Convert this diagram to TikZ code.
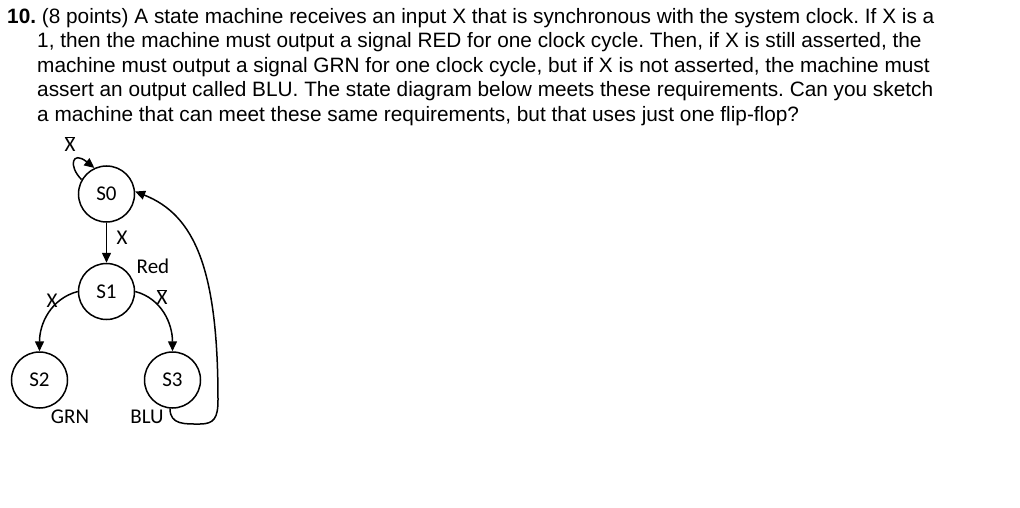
\documentclass[tikz,border=0pt]{standalone}
\usepackage{fontspec}
\setmainfont{Liberation Sans}
\newfontfamily\diagfont{Carlito}
\usetikzlibrary{arrows.meta}
\frenchspacing
\begin{document}
\begin{tikzpicture}[x=1pt,y=-1pt,
  txt/.style={anchor=base west,inner sep=0pt,font=\fontsize{20.8}{25}\selectfont},
  state/.style={draw,circle,line width=1.5pt,minimum size=56pt,inner sep=0pt,font=\diagfont\fontsize{21}{25}\selectfont},
  lbl/.style={inner sep=0pt,font=\diagfont\fontsize{21}{25}\selectfont},
  conn/.style={line width=1.5pt,-{Triangle[length=10pt,width=9pt]}}]
\fill[white] (0,0) rectangle (1020,508);
\useasboundingbox (0,0) rectangle (1020,508);
% question text
\node[txt] (l1) at (7,23.5) {\textbf{10.} (8 points) A state machine receives an input X that is synchronous with the system clock. If X is a};
\node[txt] (l2) at (37,48) {1, then the machine must output a signal RED for one clock cycle. Then, if X is still asserted, the};
\node[txt] (l3) at (37,72.5) {machine must output a signal GRN for one clock cycle, but if X is not asserted, the machine must};
\node[txt] (l4) at (37,97) {assert an output called BLU. The state diagram below meets these requirements. Can you sketch};
\node[txt] (l5) at (37,121.5) {a machine that can meet these same requirements, but that uses just one flip-flop?};
% states
\node[state] (s0) at (106.5,194) {S0};
\node[state] (s1) at (106.5,291.5) {S1};
\node[state] (s2) at (39.5,380) {S2};
\node[state] (s3) at (172.5,380) {S3};
% connectors
\draw[conn] (s0.150) .. controls (68,166) and (72,150) .. (s0.115);
\draw[conn] (s0.south) -- (s1.north);
\draw[conn] (s1.west) to[out=195,in=90] (s2.north);
\draw[conn] (s1.east) to[out=-15,in=90] (s3.north);
\coordinate (b1) at (200,424);
\coordinate (b2) at (218,400);
\draw[conn] (s3.265) .. controls (170,425) and (185,424) .. (b1)
  .. controls (214,424) and (218,418) .. (b2)
  .. controls (218,270) and (195,215) .. (s0.5);
% labels
\node[lbl] (xb0) at (70,144) {$\overline{\mbox{X}}$};
\node[lbl] (x01) at (122,238) {X};
\node[lbl] (red) at (153,266) {Red};
\node[lbl] (xb13) at (162,297) {$\overline{\mbox{X}}$};
\node[lbl] (x12) at (52,301) {X};
\node[lbl] (grn) at (70,417) {GRN};
\node[lbl] (blu) at (147,417) {BLU};
\end{tikzpicture}
\end{document}
